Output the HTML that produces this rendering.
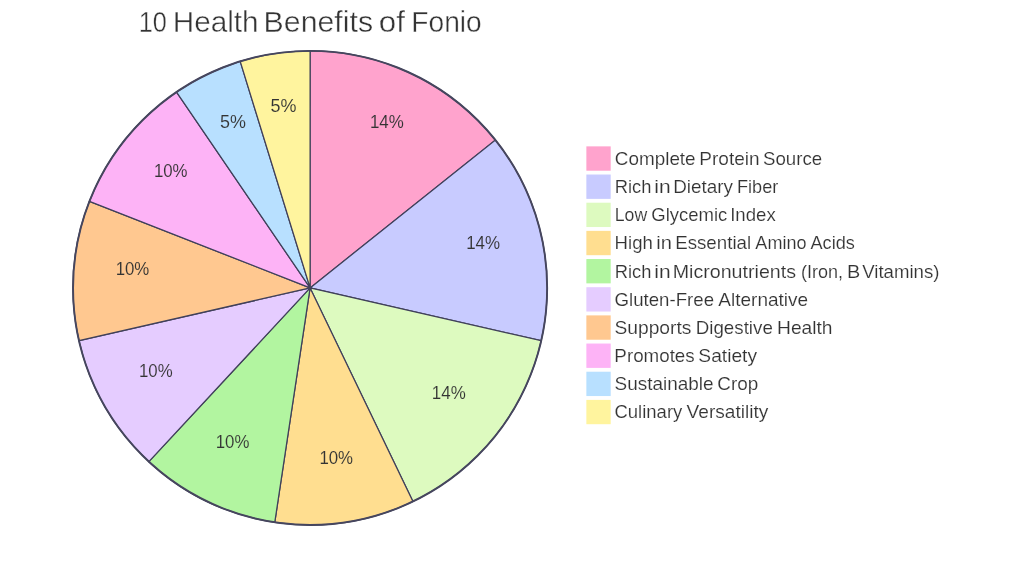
<!DOCTYPE html>
<html><head><meta charset="utf-8"><style>
html,body{margin:0;padding:0;background:#fff;width:1024px;height:578px;overflow:hidden}
svg{display:block;will-change:transform;filter:blur(0.3px)}
text{font-family:"Liberation Sans",sans-serif;fill:#333}
.tt{stroke-width:0.4px}
.lg{stroke-width:0.15px}
.sl{stroke-width:0.1px}
.lg{font-size:18.4px}
.sl{font-size:18.8px}
.tt{font-size:28.6px}
</style></head><body>
<svg width="1024" height="578" viewBox="0 0 1024 578">
<path d="M310.10,287.90L310.10,50.85A237.05,237.05 0 0 1 495.43,140.10Z" fill="#FFA3CD" stroke="#40405a" stroke-width="1.25"/>
<path d="M310.10,287.90L495.43,140.10A237.05,237.05 0 0 1 541.21,340.65Z" fill="#C8CBFF" stroke="#40405a" stroke-width="1.25"/>
<path d="M310.10,287.90L541.21,340.65A237.05,237.05 0 0 1 412.95,501.47Z" fill="#DDFABF" stroke="#40405a" stroke-width="1.25"/>
<path d="M310.10,287.90L412.95,501.47A237.05,237.05 0 0 1 274.77,522.30Z" fill="#FFDE90" stroke="#40405a" stroke-width="1.25"/>
<path d="M310.10,287.90L274.77,522.30A237.05,237.05 0 0 1 148.87,461.67Z" fill="#B2F5A0" stroke="#40405a" stroke-width="1.25"/>
<path d="M310.10,287.90L148.87,461.67A237.05,237.05 0 0 1 78.99,340.65Z" fill="#E5CCFF" stroke="#40405a" stroke-width="1.25"/>
<path d="M310.10,287.90L78.99,340.65A237.05,237.05 0 0 1 89.44,201.30Z" fill="#FFC890" stroke="#40405a" stroke-width="1.25"/>
<path d="M310.10,287.90L89.44,201.30A237.05,237.05 0 0 1 176.56,92.04Z" fill="#FDB3F6" stroke="#40405a" stroke-width="1.25"/>
<path d="M310.10,287.90L176.56,92.04A237.05,237.05 0 0 1 240.23,61.38Z" fill="#B8E0FF" stroke="#40405a" stroke-width="1.25"/>
<path d="M310.10,287.90L240.23,61.38A237.05,237.05 0 0 1 310.10,50.85Z" fill="#FFF49E" stroke="#40405a" stroke-width="1.25"/>
<circle cx="310.1" cy="287.9" r="237.05" fill="none" stroke="#46465e" stroke-width="1.9"/>
<text x="369.95" y="128.02" class="sl" stroke="#FFA3CD" textLength="33.89" lengthAdjust="spacingAndGlyphs">14%</text>
<text x="466.14" y="248.64" class="sl" stroke="#C8CBFF" textLength="33.89" lengthAdjust="spacingAndGlyphs">14%</text>
<text x="431.81" y="399.05" class="sl" stroke="#DDFABF" textLength="33.89" lengthAdjust="spacingAndGlyphs">14%</text>
<text x="319.42" y="464.00" class="sl" stroke="#FFDE90" textLength="33.68" lengthAdjust="spacingAndGlyphs">10%</text>
<text x="215.78" y="448.38" class="sl" stroke="#B2F5A0" textLength="33.68" lengthAdjust="spacingAndGlyphs">10%</text>
<text x="138.95" y="377.09" class="sl" stroke="#E5CCFF" textLength="33.68" lengthAdjust="spacingAndGlyphs">10%</text>
<text x="115.63" y="274.91" class="sl" stroke="#FFC890" textLength="33.68" lengthAdjust="spacingAndGlyphs">10%</text>
<text x="153.92" y="177.35" class="sl" stroke="#FDB3F6" textLength="33.68" lengthAdjust="spacingAndGlyphs">10%</text>
<text x="219.94" y="128.02" class="sl" stroke="#B8E0FF" textLength="25.96" lengthAdjust="spacingAndGlyphs">5%</text>
<text x="270.58" y="112.40" class="sl" stroke="#FFF49E" textLength="25.96" lengthAdjust="spacingAndGlyphs">5%</text>
<rect x="587.0" y="147.00" width="23.05" height="23.05" fill="#FFA3CD" stroke="#FFA3CD" stroke-width="1.28"/>
<text x="614.84" y="164.90" class="lg" stroke="#fff" textLength="80.80" lengthAdjust="spacingAndGlyphs">Complete</text>
<text x="699.34" y="164.90" class="lg" stroke="#fff" textLength="60.30" lengthAdjust="spacingAndGlyphs">Protein</text>
<text x="762.95" y="164.90" class="lg" stroke="#fff" textLength="59.18" lengthAdjust="spacingAndGlyphs">Source</text>
<rect x="587.0" y="175.17" width="23.05" height="23.05" fill="#C8CBFF" stroke="#C8CBFF" stroke-width="1.28"/>
<text x="614.70" y="193.07" class="lg" stroke="#fff" textLength="36.70" lengthAdjust="spacingAndGlyphs">Rich</text>
<text x="654.29" y="193.07" class="lg" stroke="#fff" textLength="16.37" lengthAdjust="spacingAndGlyphs">in</text>
<text x="673.15" y="193.07" class="lg" stroke="#fff" textLength="59.79" lengthAdjust="spacingAndGlyphs">Dietary</text>
<text x="737.01" y="193.07" class="lg" stroke="#fff" textLength="41.29" lengthAdjust="spacingAndGlyphs">Fiber</text>
<rect x="587.0" y="203.34" width="23.05" height="23.05" fill="#DDFABF" stroke="#DDFABF" stroke-width="1.28"/>
<text x="614.75" y="221.24" class="lg" stroke="#fff" textLength="32.41" lengthAdjust="spacingAndGlyphs">Low</text>
<text x="651.37" y="221.24" class="lg" stroke="#fff" textLength="76.02" lengthAdjust="spacingAndGlyphs">Glycemic</text>
<text x="730.18" y="221.24" class="lg" stroke="#fff" textLength="45.52" lengthAdjust="spacingAndGlyphs">Index</text>
<rect x="587.0" y="231.51" width="23.05" height="23.05" fill="#FFDE90" stroke="#FFDE90" stroke-width="1.28"/>
<text x="614.58" y="249.41" class="lg" stroke="#fff" textLength="38.23" lengthAdjust="spacingAndGlyphs">High</text>
<text x="656.35" y="249.41" class="lg" stroke="#fff" textLength="15.65" lengthAdjust="spacingAndGlyphs">in</text>
<text x="675.16" y="249.41" class="lg" stroke="#fff" textLength="75.99" lengthAdjust="spacingAndGlyphs">Essential</text>
<text x="755.36" y="249.41" class="lg" stroke="#fff" textLength="51.09" lengthAdjust="spacingAndGlyphs">Amino</text>
<text x="810.46" y="249.41" class="lg" stroke="#fff" textLength="44.39" lengthAdjust="spacingAndGlyphs">Acids</text>
<rect x="587.0" y="259.68" width="23.05" height="23.05" fill="#B2F5A0" stroke="#B2F5A0" stroke-width="1.28"/>
<text x="614.70" y="277.58" class="lg" stroke="#fff" textLength="36.70" lengthAdjust="spacingAndGlyphs">Rich</text>
<text x="654.29" y="277.58" class="lg" stroke="#fff" textLength="16.37" lengthAdjust="spacingAndGlyphs">in</text>
<text x="672.69" y="277.58" class="lg" stroke="#fff" textLength="123.32" lengthAdjust="spacingAndGlyphs">Micronutrients</text>
<text x="800.98" y="277.58" class="lg" stroke="#fff" textLength="42.03" lengthAdjust="spacingAndGlyphs">(Iron,</text>
<text x="846.97" y="277.58" class="lg" stroke="#fff" textLength="13.28" lengthAdjust="spacingAndGlyphs">B</text>
<text x="862.22" y="277.58" class="lg" stroke="#fff" textLength="77.23" lengthAdjust="spacingAndGlyphs">Vitamins)</text>
<rect x="587.0" y="287.85" width="23.05" height="23.05" fill="#E5CCFF" stroke="#E5CCFF" stroke-width="1.28"/>
<text x="614.56" y="305.75" class="lg" stroke="#fff" textLength="99.47" lengthAdjust="spacingAndGlyphs">Gluten-Free</text>
<text x="718.36" y="305.75" class="lg" stroke="#fff" textLength="89.78" lengthAdjust="spacingAndGlyphs">Alternative</text>
<rect x="587.0" y="316.02" width="23.05" height="23.05" fill="#FFC890" stroke="#FFC890" stroke-width="1.28"/>
<text x="614.43" y="333.92" class="lg" stroke="#fff" textLength="76.97" lengthAdjust="spacingAndGlyphs">Supports</text>
<text x="695.76" y="333.92" class="lg" stroke="#fff" textLength="77.07" lengthAdjust="spacingAndGlyphs">Digestive</text>
<text x="777.02" y="333.92" class="lg" stroke="#fff" textLength="55.52" lengthAdjust="spacingAndGlyphs">Health</text>
<rect x="587.0" y="344.19" width="23.05" height="23.05" fill="#FDB3F6" stroke="#FDB3F6" stroke-width="1.28"/>
<text x="614.36" y="362.09" class="lg" stroke="#fff" textLength="80.32" lengthAdjust="spacingAndGlyphs">Promotes</text>
<text x="698.33" y="362.09" class="lg" stroke="#fff" textLength="58.71" lengthAdjust="spacingAndGlyphs">Satiety</text>
<rect x="587.0" y="372.36" width="23.05" height="23.05" fill="#B8E0FF" stroke="#B8E0FF" stroke-width="1.28"/>
<text x="614.54" y="390.26" class="lg" stroke="#fff" textLength="99.10" lengthAdjust="spacingAndGlyphs">Sustainable</text>
<text x="717.34" y="390.26" class="lg" stroke="#fff" textLength="41.06" lengthAdjust="spacingAndGlyphs">Crop</text>
<rect x="587.0" y="400.53" width="23.05" height="23.05" fill="#FFF49E" stroke="#FFF49E" stroke-width="1.28"/>
<text x="614.46" y="418.43" class="lg" stroke="#fff" textLength="67.88" lengthAdjust="spacingAndGlyphs">Culinary</text>
<text x="686.62" y="418.43" class="lg" stroke="#fff" textLength="81.67" lengthAdjust="spacingAndGlyphs">Versatility</text>
<text x="138.67" y="31.70" class="tt" stroke="#fff" textLength="28.11" lengthAdjust="spacingAndGlyphs">10</text>
<text x="172.66" y="31.70" class="tt" stroke="#fff" textLength="85.97" lengthAdjust="spacingAndGlyphs">Health</text>
<text x="263.61" y="31.70" class="tt" stroke="#fff" textLength="109.48" lengthAdjust="spacingAndGlyphs">Benefits</text>
<text x="378.78" y="31.70" class="tt" stroke="#fff" textLength="26.17" lengthAdjust="spacingAndGlyphs">of</text>
<text x="411.29" y="31.70" class="tt" stroke="#fff" textLength="70.50" lengthAdjust="spacingAndGlyphs">Fonio</text>
</svg>
</body></html>
